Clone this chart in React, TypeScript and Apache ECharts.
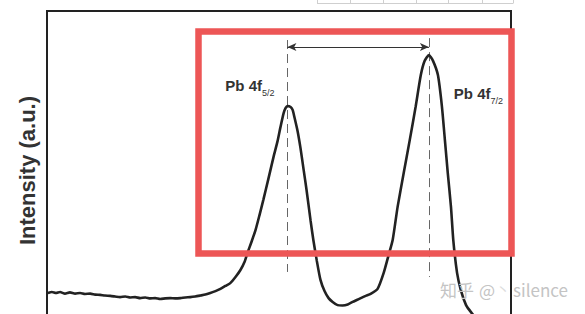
import React, { useEffect, useRef } from "react";
import * as echarts from "echarts";

// Binding energy (eV), x axis reversed as in XPS
const bindingEnergy = [
  151.97, 151.83, 151.69, 151.55, 151.38, 151.21, 151.03, 150.86, 150.69, 150.51,
  150.34, 150.17, 150.0, 149.82, 149.65, 149.48, 149.3, 149.13, 148.96, 148.79,
  148.61, 148.44, 148.27, 148.1, 147.92, 147.75, 147.58, 147.4, 147.23, 147.06,
  146.89, 146.71, 146.54, 146.37, 146.19, 146.02, 145.85, 145.68, 145.5, 145.33,
  145.19, 145.09, 144.95, 144.81, 144.67, 144.54, 144.36, 144.19, 144.05, 143.95,
  143.84, 143.77, 143.71, 143.6, 143.53, 143.47, 143.36, 143.26, 143.15, 143.05,
  142.91, 142.81, 142.7, 142.57, 142.43, 142.29, 142.15, 141.98, 141.81, 141.63,
  141.46, 141.32, 141.18, 141.01, 140.84, 140.6, 140.39, 140.22, 140.08, 139.91,
  139.7, 139.49, 139.29, 139.11, 138.98, 138.83, 138.7, 138.52, 138.38, 138.28,
  138.18, 138.07, 137.99, 137.86, 137.73, 137.55, 137.38, 137.21, 136.97, 136.69,
  136.35, 136.0,
];
const intensity = [
  11.6, 11.9, 11.6, 11.9, 11.4, 11.8, 11.4, 11.6, 11.3, 11.4,
  11.1, 11.0, 10.8, 10.7, 10.5, 10.3, 10.5, 10.2, 10.3, 10.0,
  10.2, 9.9, 10.0, 9.7, 9.9, 10.0, 9.9, 10.0, 10.2, 10.3,
  10.5, 10.8, 11.1, 11.6, 12.2, 12.9, 13.8, 14.7, 16.6, 18.8,
  21.3, 24.1, 27.6, 31.3, 36.1, 40.8, 47.6, 54.2, 59.2, 63.6,
  68.0, 69.6, 70.2, 69.9, 69.0, 66.8, 62.4, 57.1, 50.2, 43.9,
  34.2, 27.9, 21.9, 15.7, 12.2, 10.0, 8.8, 7.8, 7.7, 8.0,
  8.8, 9.4, 10.0, 10.7, 11.3, 12.9, 17.9, 23.5, 28.2, 38.6,
  49.2, 59.6, 69.9, 79.9, 84.3, 86.2, 84.6, 79.9, 69.9, 59.6,
  49.2, 38.6, 28.2, 17.9, 12.5, 7.8, 5.6, 3.8, 2.2, 0.9,
  0.3, 0.3,
];

// Peak annotations
const peakPositions = [143.71, 138.83];
const peakNames = ["Pb 4f", "Pb 4f"];
const peakSubs = ["5/2", "7/2"];
const labelAnchors = [
  [145.85, 76.5],
  [137.97, 74.0],
];
const dashTop = [90.9, 91.5];
const dashBottom = [18.2, 16.6];
const arrowLevel = 88.7;
const yAxisName = "Intensity (a.u.)";

export default function App() {
  const ref = useRef<HTMLDivElement>(null);
  useEffect(() => {
    if (!ref.current) return;
    const chart = echarts.init(ref.current, undefined, { renderer: "svg" });
    const data = bindingEnergy.map((x, i) => [x, intensity[i]]);
    const font = "'Liberation Sans', Arial, sans-serif";
    const dashLines = peakPositions.map((x, i) => [
      { coord: [x, dashTop[i]] },
      { coord: [x, dashBottom[i]] },
    ]);
    const arrowLine = [
      {
        coord: [peakPositions[0], arrowLevel],
        symbol: "arrow",
        symbolSize: [6, 9],
        lineStyle: { type: "solid", color: "#333", width: 1 },
      },
      {
        coord: [peakPositions[1], arrowLevel],
        symbol: "arrow",
        symbolSize: [6, 9],
      },
    ];
    const waterColor = "#c4c4c4";
    const tableX = [317, 350, 383, 416, 448, 482, 513];
    chart.setOption({
      animation: false,
      backgroundColor: "#ffffff",
      grid: {
        left: 47,
        right: 74,
        top: 11,
        bottom: 10,
        show: true,
        borderColor: "#222",
        borderWidth: 2,
        backgroundColor: "transparent",
      },
      xAxis: {
        type: "value",
        min: 136,
        max: 152,
        inverse: true,
        show: false,
      },
      yAxis: {
        type: "value",
        min: 0,
        max: 100,
        name: yAxisName,
        nameLocation: "middle",
        nameGap: 9,
        nameTextStyle: {
          fontFamily: font,
          fontWeight: "bold",
          fontSize: 22,
          color: "#333",
        },
        axisLine: { show: false },
        axisTick: { show: false },
        axisLabel: { show: false },
        splitLine: { show: false },
      },
      series: [
        {
          type: "line",
          data,
          showSymbol: false,
          smooth: 0.2,
          lineStyle: { color: "#222", width: 2.6 },
          z: 3,
          markLine: {
            silent: true,
            symbol: ["none", "none"],
            label: { show: false },
            lineStyle: { color: "#666", width: 1, type: [9, 5] },
            data: [...dashLines, arrowLine],
            z: 2,
          },
          markPoint: {
            silent: true,
            symbol: "circle",
            symbolSize: 0,
            data: peakPositions.map((_, i) => ({
              coord: labelAnchors[i],
              label: {
                show: true,
                position: "right",
                distance: 0,
                formatter: `{m|${peakNames[i]}}{s|${peakSubs[i]}}`,
                rich: {
                  m: {
                    fontFamily: font,
                    fontWeight: "bold",
                    fontSize: 15,
                    color: "#333",
                    lineHeight: 24,
                    verticalAlign: "middle",
                  },
                  s: {
                    fontFamily: font,
                    fontSize: 9,
                    color: "#333",
                    lineHeight: 11,
                    verticalAlign: "bottom",
                  },
                },
              },
            })),
          },
        },
      ],
      graphic: [
        {
          type: "rect",
          z: 100,
          shape: { x: 198.5, y: 31.5, width: 313, height: 222 },
          style: { fill: "none", stroke: "#ED5656", lineWidth: 6.5 },
        },
        {
          type: "line",
          z: 50,
          shape: { x1: 317, y1: 3.5, x2: 513, y2: 3.5 },
          style: { stroke: "#cfcfcf", lineWidth: 1 },
        },
        ...tableX.map((x) => ({
          type: "line",
          z: 50,
          shape: { x1: x + 0.5, y1: 0, x2: x + 0.5, y2: 3.5 },
          style: { stroke: "#cfcfcf", lineWidth: 1 },
        })),
        {
          type: "text",
          z: 120,
          x: 440,
          y: 289,
          style: {
            text: "知乎",
            font: "17px 'Noto Sans CJK SC'",
            fill: waterColor,
            verticalAlign: "middle",
          },
        },
        {
          type: "text",
          z: 120,
          x: 479,
          y: 289,
          style: {
            text: "@",
            font: "17px 'Noto Sans CJK SC'",
            fill: waterColor,
            verticalAlign: "middle",
          },
        },
        {
          type: "text",
          z: 120,
          x: 496,
          y: 289,
          style: {
            text: "丶",
            font: "14px 'Noto Sans CJK SC'",
            fill: "#dcdcdc",
            verticalAlign: "middle",
          },
        },
        {
          type: "text",
          z: 120,
          x: 513,
          y: 289,
          style: {
            text: "silence",
            font: "17px 'Noto Sans CJK SC'",
            fill: waterColor,
            verticalAlign: "middle",
          },
        },
      ],
    });
    return () => chart.dispose();
  }, []);
  return (
    <div
      style={{
        position: "fixed",
        left: 0,
        top: 0,
        width: 585,
        height: 314,
        overflow: "hidden",
        background: "#fff",
      }}
    >
      <div ref={ref} style={{ width: 585, height: 340 }} />
    </div>
  );
}
